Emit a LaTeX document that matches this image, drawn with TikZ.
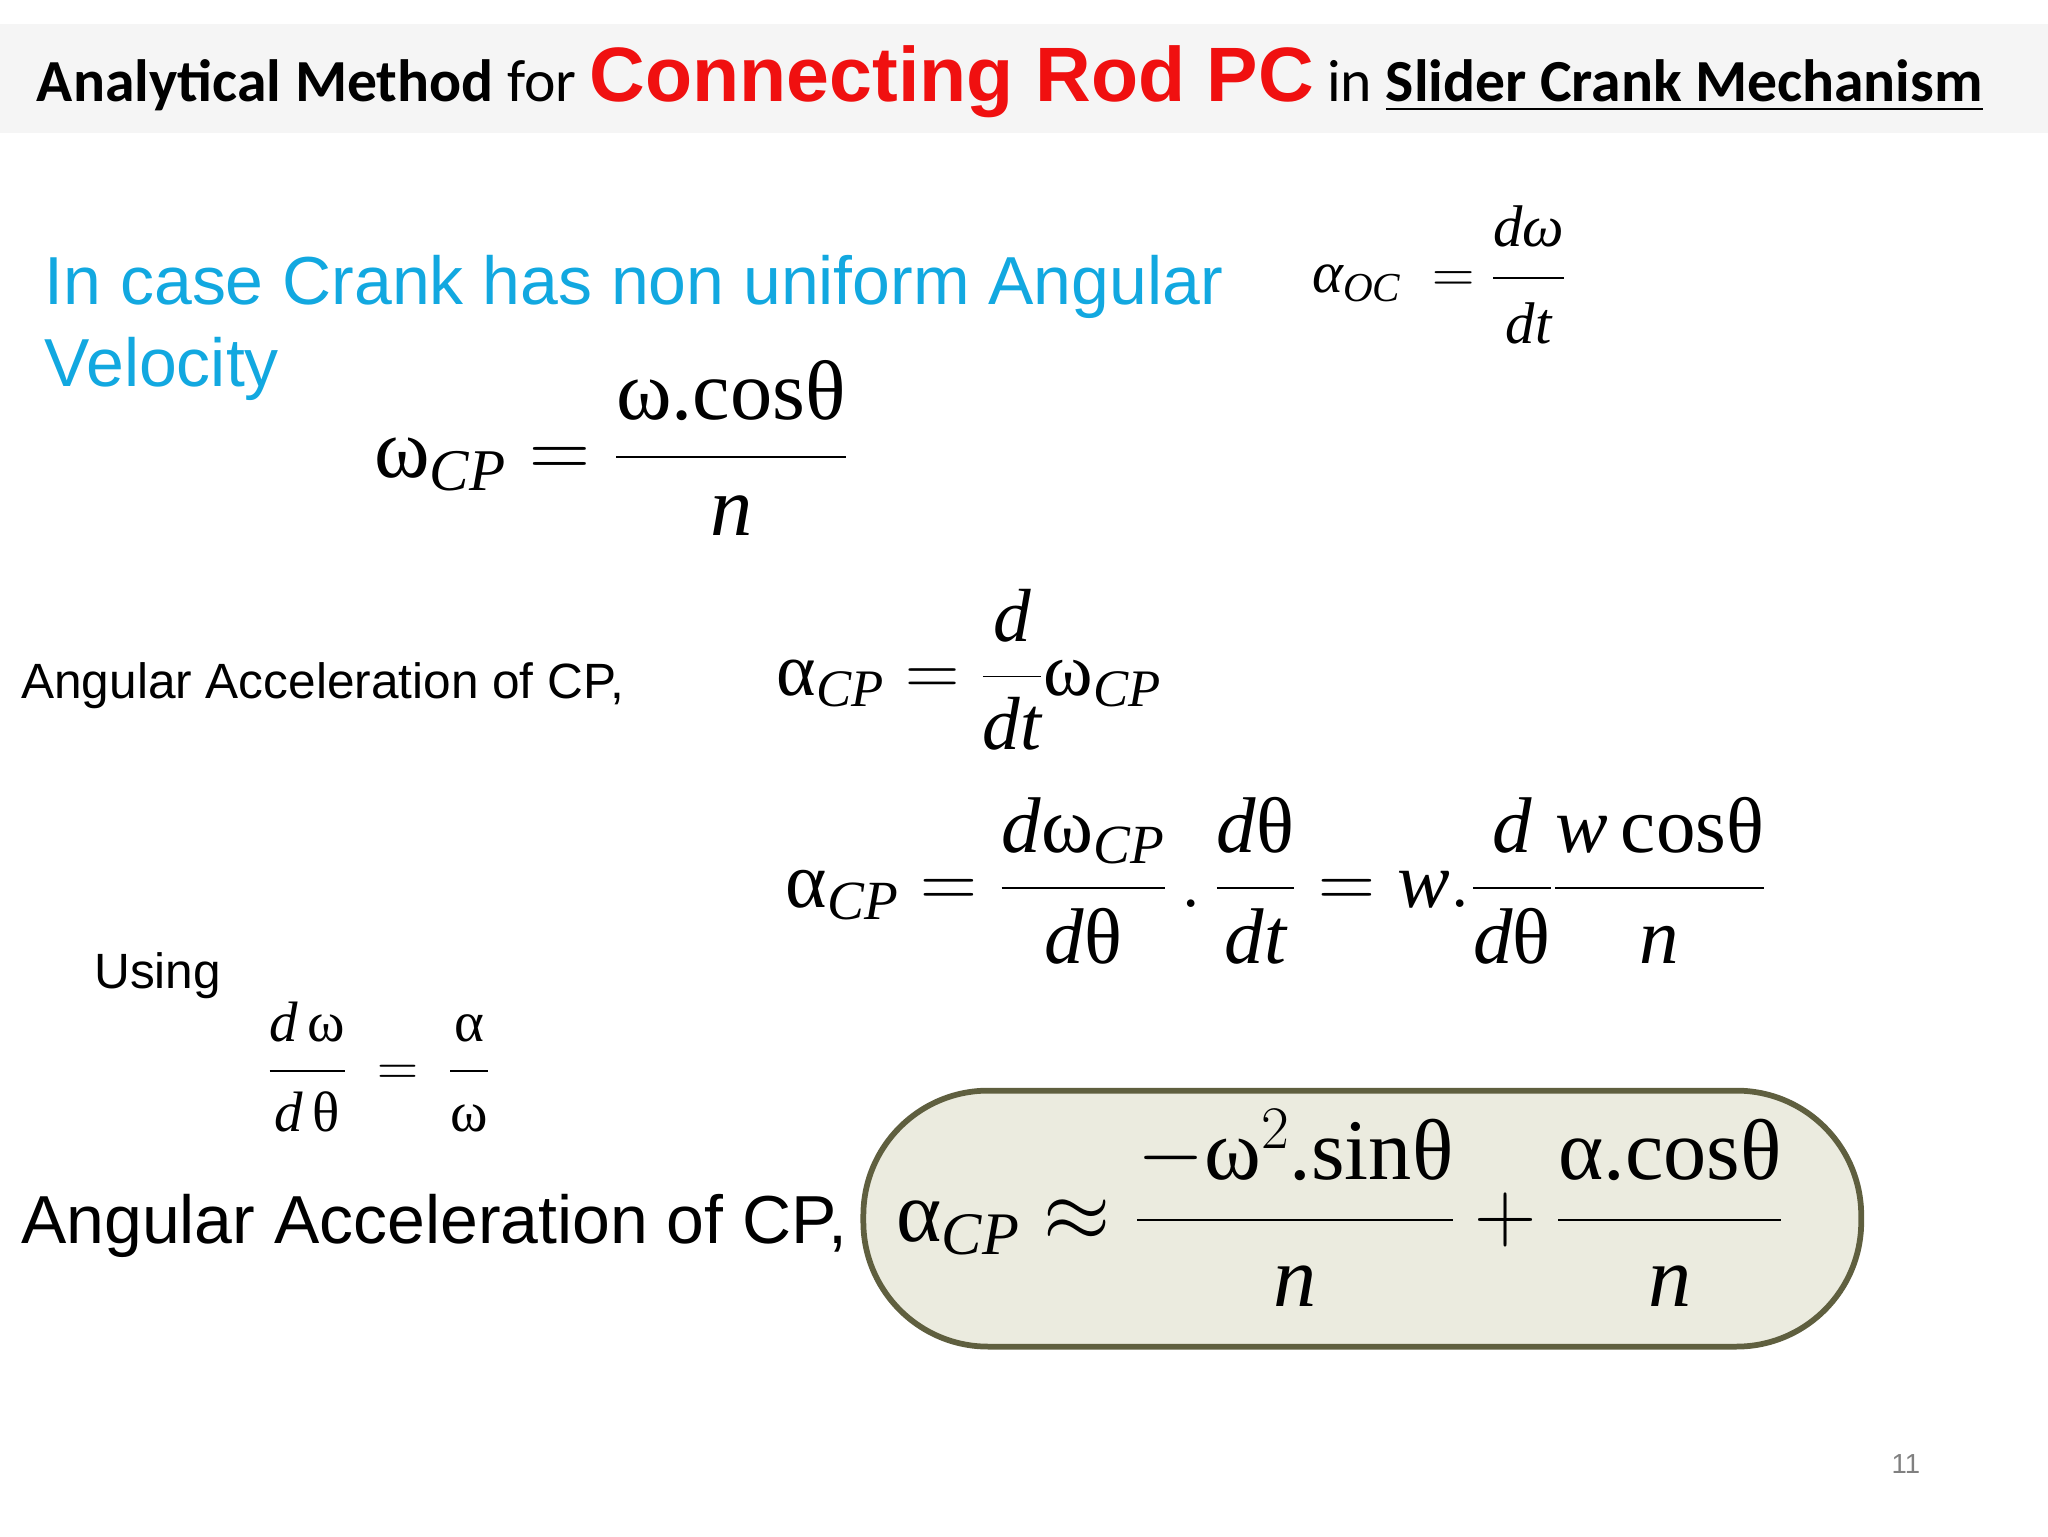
\documentclass[tikz,border=0pt]{standalone}
\usepackage{fix-cm}
\usepackage{amsmath}
\usepackage{fontspec}
\setmainfont{Liberation Serif}
\newfontfamily\ttl{Carlito}
\newfontfamily\ars{Liberation Sans}
\newcommand\G[1]{\textup{\rmfamily #1}}
\newcommand\I[1]{\textit{\rmfamily #1}}
\newcommand\FR[2]{\dfrac{#1\strut}{\strut #2}}
\definecolor{tblue}{HTML}{12A8E0}
\definecolor{tred}{HTML}{F01010}
\definecolor{boxf}{HTML}{EBEBDF}
\definecolor{boxd}{HTML}{5F5F3F}
\tikzset{lbl/.style={inner sep=0pt,anchor=base west}, eq/.style={inner sep=0pt}}
\begin{document}
\begin{tikzpicture}[x=0.25mm,y=-0.25mm]
\useasboundingbox (0,0) rectangle (1568,1176);
\fill[gray!8] (0,18) rectangle (1568,102);
\node[lbl] (title) at (28,78) {\ttl\fontsize{32.5}{36}\selectfont\textbf{Analytical Method} for {\ars\bfseries\color{tred}\fontsize{42}{46}\selectfont Connecting Rod PC} in \textbf{\underline{Slider Crank Mechanism}}};
\node[lbl,text=tblue] (blue1) at (34,233) {\ars\fontsize{37}{42}\selectfont In case Crank has non uniform Angular};
\node[lbl,text=tblue] (blue2) at (34,296) {\ars\fontsize{37}{42}\selectfont Velocity};
\node[eq] (aoc) at (1102,213) {\fontsize{32}{46}\selectfont $\I{α}_{\I{OC}}\ =\FR{\I{dω}}{\I{dt}}$};
\node[eq] (wcp) at (468,350) {\fontsize{46}{56}\selectfont $\G{ω}_{\I{CP}}=\FR{\G{ω.cosθ}}{\I{n}}$};
\node[lbl] (aa1) at (16,535) {\ars\fontsize{27}{32}\selectfont Angular Acceleration of CP,};
\node[eq] (acp1) at (742,518) {\fontsize{41}{52}\selectfont $\G{α}_{\I{CP}}=\FR{\I{d}}{\I{dt}}\G{ω}_{\I{CP}}$};
\node[eq] (acp2) at (977,680) {\fontsize{43}{54}\selectfont $\G{α}_{\I{CP}}=\FR{\I{d}\G{ω}_{\I{CP}}}{\I{d}\G{θ}}\,.\,\FR{\I{d}\G{θ}}{\I{dt}}=\I{w}.\FR{\I{d}}{\I{d}\G{θ}}\FR{\I{w}\,\G{cosθ}}{\I{n}}$};
\node[lbl] (using) at (72,757) {\ars\fontsize{27}{32}\selectfont Using};
\node[eq] (dwd) at (290,820) {\fontsize{31}{42}\selectfont $\FR{\I{d}\,\G{ω}}{\I{d}\,\G{θ}}\ =\ \FR{\G{α}}{\G{ω}}$};
\node[lbl] (aa2) at (16,952) {\ars\fontsize{37}{42}\selectfont Angular Acceleration of CP,};
\draw[boxd,line width=1.1mm,fill=boxf,rounded corners=68pt] (661,835) rectangle (1425,1031);
\node[eq] (final) at (1026,934) {\fontsize{47}{62}\selectfont $\G{α}_{\I{CP}}\approx\FR{-\G{ω}^{2}\G{.sinθ}}{\I{n}}+\FR{\G{α.cosθ}}{\I{n}}$};
\node[lbl,text=gray] (pg) at (1448,1128) {\ars\fontsize{15}{18}\selectfont 11};
\end{tikzpicture}
\end{document}
